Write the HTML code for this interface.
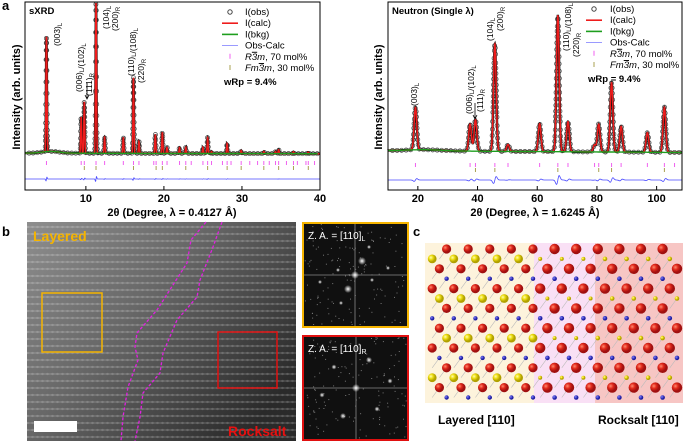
<!DOCTYPE html>
<html><head><meta charset="utf-8">
<style>
html,body{margin:0;padding:0;background:#fff;}
#wrap{position:relative;width:685px;height:441px;overflow:hidden;font-family:"Liberation Sans",sans-serif;}
svg text{font-family:"Liberation Sans",sans-serif;}
</style></head>
<body>
<div id="wrap">
<svg id="fig" width="685" height="441" viewBox="0 0 685 441" xmlns="http://www.w3.org/2000/svg">
<defs>
<linearGradient id="stemg" x1="0" y1="0" x2="1" y2="0.7">
<stop offset="0" stop-color="#8e8e8e"/><stop offset="0.45" stop-color="#686868"/><stop offset="1" stop-color="#2a2a2a"/>
</linearGradient>
<pattern id="stripes" width="5" height="7" patternUnits="userSpaceOnUse">
<rect x="0" y="2" width="5" height="2" fill="#fff" opacity="0.12"/>
<circle cx="2.5" cy="3" r="1.2" fill="#fff" opacity="0.12"/>
</pattern>
<radialGradient id="spot"><stop offset="0" stop-color="#fff"/><stop offset="1" stop-color="#fff" stop-opacity="0"/></radialGradient>
<radialGradient id="redball" cx="0.35" cy="0.35"><stop offset="0" stop-color="#ff8a70"/><stop offset="0.5" stop-color="#e0281a"/><stop offset="1" stop-color="#a01010"/></radialGradient>
<radialGradient id="yelball" cx="0.35" cy="0.35"><stop offset="0" stop-color="#ffffb0"/><stop offset="0.5" stop-color="#ecdc10"/><stop offset="1" stop-color="#b0a000"/></radialGradient>
<radialGradient id="bluball" cx="0.35" cy="0.35"><stop offset="0" stop-color="#8080ff"/><stop offset="1" stop-color="#1a1aa0"/></radialGradient>
</defs>

<text x="2" y="10" font-size="13" font-weight="bold">a</text>
<text x="2" y="236" font-size="13" font-weight="bold">b</text>
<text x="413" y="236" font-size="13" font-weight="bold">c</text>

<g id="chartL"></g>
<g id="chartR"></g>

<!-- Panel b -->
<g>
<rect x="27" y="222" width="269" height="219" fill="url(#stemg)"/>
<rect x="27" y="222" width="269" height="219" fill="url(#stripes)"/>
<path d="M206,222 L191,240 L187,263 L157,310 L137,333 L135,347 L138,360 L128,387 L123,417 L121,441" fill="none" stroke="#e020e0" stroke-width="1.3" stroke-dasharray="3,2"/>
<path d="M222,222 L213,247 L200,280 L197,297 L177,320 L163,353 L160,373 L143,393 L140,417 L135,441" fill="none" stroke="#e020e0" stroke-width="1.3" stroke-dasharray="3,2"/>
<rect x="42" y="293" width="60" height="59" fill="none" stroke="#f5b400" stroke-width="1.5"/>
<rect x="218" y="332" width="59" height="56" fill="none" stroke="#e01010" stroke-width="1.5"/>
<rect x="34" y="421" width="43" height="11" fill="#fff"/>
<text x="33" y="241" font-size="14" font-weight="bold" fill="#f5b400">Layered</text>
<text x="228" y="436" font-size="14" font-weight="bold" fill="#e81010">Rocksalt</text>
</g>
<g id="fftL">
<rect x="303" y="223" width="105" height="104" fill="#101010" stroke="#f5b400" stroke-width="2"/>
<line x1="304" y1="275" x2="407" y2="275" stroke="#888" stroke-width="0.8"/>
<line x1="355" y1="224" x2="355" y2="326" stroke="#888" stroke-width="0.8"/>
<circle cx="355" cy="275" r="4" fill="url(#spot)"/><circle cx="362" cy="261" r="4" fill="url(#spot)"/><circle cx="348" cy="289" r="4" fill="url(#spot)"/>
<circle cx="338" cy="270" r="2" fill="url(#spot)"/><circle cx="372" cy="280" r="2" fill="url(#spot)"/><circle cx="388" cy="268" r="2" fill="url(#spot)"/><circle cx="320" cy="282" r="2" fill="url(#spot)"/><circle cx="341" cy="303" r="2" fill="url(#spot)"/><circle cx="369" cy="247" r="2" fill="url(#spot)"/>
<text x="308" y="239" font-size="10" fill="#fff">Z. A. = [110]<tspan font-size="7" dy="2">L</tspan></text>
</g>
<g id="fftR">
<rect x="303" y="336" width="105" height="104" fill="#101010" stroke="#e01010" stroke-width="2"/>
<line x1="304" y1="388" x2="407" y2="388" stroke="#888" stroke-width="0.8"/>
<line x1="356" y1="337" x2="356" y2="439" stroke="#888" stroke-width="0.8"/>
<circle cx="356" cy="388" r="4" fill="url(#spot)"/><circle cx="369" cy="360" r="3" fill="url(#spot)"/><circle cx="343" cy="416" r="3" fill="url(#spot)"/>
<circle cx="334" cy="367" r="2.5" fill="url(#spot)"/><circle cx="390" cy="381" r="2.5" fill="url(#spot)"/><circle cx="322" cy="395" r="2.5" fill="url(#spot)"/><circle cx="377" cy="409" r="2.5" fill="url(#spot)"/>
<text x="308" y="352" font-size="10" fill="#fff">Z. A. = [110]<tspan font-size="7" dy="2">R</tspan></text>
</g>

<!-- Panel c -->
<g id="crystal">
<rect x="425" y="243" width="109" height="160" fill="#fdf3dc"/>
<rect x="534" y="243" width="61" height="160" fill="#f9e0f5"/>
<rect x="595" y="243" width="88" height="160" fill="#f7c6c4"/>
</g>
<text x="438" y="424" font-size="12" font-weight="bold">Layered [110]</text>
<text x="598" y="424" font-size="12" font-weight="bold">Rocksalt [110]</text>
</svg>
</div>
<script>
var NS="http://www.w3.org/2000/svg";
// ---- sXRD data ----
var xrdPeaks=[4.95,9.4,9.8,11.3,12.4,14.8,16.1,16.8,18.9,19.8,20.4,22.0,22.8,25.0,25.6,26.1,28.1,29.9,32.8,34.3,34.7,36.6,38.5];
var xrdHeights=[76,24,34,100,10.6,10.6,50,8,12.6,14,4,4,4,4,10.6,1.3,6.6,2,1.3,1.3,2.6,1.3,1];
var xrdTicksR=[4.95,9.4,9.8,11.3,12.4,14.8,16.1,16.8,18.7,19.0,19.8,20.4,22.0,22.8,23.5,25.0,25.6,26.1,27.5,28.1,28.6,29.9,31.0,32.0,32.8,33.5,34.3,34.7,35.7,36.6,37.1,38.2,38.5,39.3];
var xrdTicksF=[9.8,11.3,16.1,19.0,19.8,22.8,25.6,28.1,29.9,32.8,34.7,36.6,38.5];
var xrdXTicks=[10,20,30,40];
// ---- Neutron data ----
var neuPeaks=[19.2,37.5,39.3,45.8,50.2,60.8,66.9,70.3,79.2,80.6,84.9,88.1,96.9,102.6];
var neuHeights=[28,18,21,71,4.6,18.5,90,20,4.6,18.5,46,17,13,30];
var neuTicksR=[19.2,37.5,39.3,45.8,50.2,60.8,66.9,70.3,79.2,80.6,84.9,88.1,96.9,102.6,106];
var neuTicksF=[39.3,45.8,66.9,80.6,84.9,102.6];
var neuXTicks=[20,40,60,80,100];

function el(tag,attrs,parent){var e=document.createElementNS(NS,tag);for(var k in attrs)e.setAttribute(k,attrs[k]);if(parent)parent.appendChild(e);return e;}

function drawChart(g,cfg){
  var X=function(v){return cfg.x0+(v-cfg.xmin)/(cfg.xmax-cfg.xmin)*(cfg.x1-cfg.x0);};
  var Y=function(v){return cfg.base-v/100*(cfg.base-cfg.top);};
  function prof(t){var s=cfg.bkg(t);for(var i=0;i<cfg.peaks.length;i++){var d=(t-cfg.peaks[i])/cfg.sig;s+=cfg.heights[i]*Math.exp(-0.5*d*d);}return s;}
  var pts=[];for(var t=cfg.xmin;t<=cfg.xmax;t+=cfg.step){pts.push([X(t),Math.max(Y(prof(t)),cfg.top)]);}
  var obs=el('g',{},g);
  
  
  var acc=0;
  for(var i=1;i<pts.length;i++){var dx=pts[i][0]-pts[i-1][0],dy=pts[i][1]-pts[i-1][1];acc+=Math.sqrt(dx*dx+dy*dy);
    if(acc>=cfg.spacing){acc=0;el('circle',{cx:pts[i][0].toFixed(1),cy:pts[i][1].toFixed(1),r:2.1,fill:'none',stroke:'#444','stroke-width':0.7},obs);}}
  var d='M'+pts.map(function(p){return p[0].toFixed(1)+','+p[1].toFixed(1);}).join('L');
  var base=el('path',{d:d,fill:'none',stroke:'#111','stroke-width':2.4},g);
  
  
  var calc=el('path',{d:d,fill:'none',stroke:'#ee1c1c','stroke-width':1.5},g);
  
  
  var bp=[];for(var t2=cfg.xmin;t2<=cfg.xmax;t2+=0.5){bp.push(X(t2).toFixed(1)+','+Y(cfg.bkg(t2)).toFixed(1));}
  var bk=el('path',{d:'M'+bp.join('L'),fill:'none',stroke:'#1e9e1e','stroke-width':1.4},g);
  
  
  var dp=[];for(var t3=cfg.xmin;t3<=cfg.xmax;t3+=cfg.step){var s=0;for(var j=0;j<cfg.peaks.length;j++){var q=(t3-cfg.peaks[j])/cfg.sig;s+=cfg.heights[j]*q*Math.exp(-0.5*q*q);}dp.push(X(t3).toFixed(1)+','+(cfg.diffY-s*cfg.diffScale).toFixed(1));}
  var df=el('path',{d:'M'+dp.join('L'),fill:'none',stroke:'#4a4aff','stroke-width':0.8},g);
  
  
  cfg.ticksR.forEach(function(v){var l=el('line',{x1:X(v),x2:X(v),y1:cfg.tickY1,y2:cfg.tickY1+4,stroke:'#f060f0','stroke-width':1},g);
    
    });
  cfg.ticksF.forEach(function(v){var l=el('line',{x1:X(v),x2:X(v),y1:cfg.tickY2,y2:cfg.tickY2+4,stroke:'#a8a050','stroke-width':1},g);
    
    });
  var fr=el('rect',{x:cfg.x0,y:cfg.top-1,width:cfg.x1-cfg.x0,height:cfg.bottom-cfg.top+1,fill:'none',stroke:'#000','stroke-width':1},g);
  
  
  cfg.xticks.forEach(function(v){var x=X(v);el('line',{x1:x,x2:x,y1:cfg.bottom,y2:cfg.bottom-4,stroke:'#000'},g);
    var t=el('text',{x:x,y:cfg.bottom+12,'font-size':11,'font-weight':'bold','text-anchor':'middle'},g);t.textContent=v;
    
    });
}

drawChart(document.getElementById('chartL'),{x0:25,x1:320,xmin:2.2,xmax:40,top:3,base:154,bottom:190,
  peaks:xrdPeaks,heights:xrdHeights,sig:0.06,step:0.01,spacing:4,
  bkg:function(t){return 0.6+1.2*Math.exp(-Math.pow((t-5.5)/1.5,2))-0.01*t;},
  ticksR:xrdTicksR,ticksF:xrdTicksF,tickY1:161,tickY2:166,diffY:179,diffScale:0.04,xticks:xrdXTicks});
drawChart(document.getElementById('chartR'),{x0:388,x1:682,xmin:10,xmax:108.5,top:3,base:154,bottom:190,
  peaks:neuPeaks,heights:neuHeights,sig:0.45,step:0.04,spacing:4.5,
  bkg:function(t){return 2.2+0.8*Math.exp(-Math.pow((t-22)/8,2))-0.012*(t-10);},
  ticksR:neuTicksR,ticksF:neuTicksF,tickY1:163,tickY2:168,diffY:180,diffScale:0.08,xticks:neuXTicks});
</script>
<script>
var fig=document.getElementById('fig');
function txt(x,y,s,attrs,name){var t=document.createElementNS(NS,'text');t.setAttribute('x',x);t.setAttribute('y',y);for(var k in attrs)t.setAttribute(k,attrs[k]);t.innerHTML=s;fig.appendChild(t);
  
  return t;}
function rot(x,y,s,name){return txt(0,0,s,{'font-size':8.5,transform:'translate('+x+','+y+') rotate(-90)'},name);}
var sL='<tspan font-size="6" dy="2">L</tspan><tspan dy="-2"></tspan>',sR='<tspan font-size="6" dy="2">R</tspan><tspan dy="-2"></tspan>';
rot(60,46,'(003)'+sL,'peak-label-003');
rot(82,92,'(006)'+sL+'/(102)'+sL,'peak-label-006-102');
rot(92,96,'(111)'+sR,'peak-label-111');
rot(109,29,'(104)'+sL,'peak-label-104');
rot(118,31,'(200)'+sR,'peak-label-200');
rot(134,76,'(110)'+sL+'/(108)'+sL,'peak-label-110-108');
rot(144,83,'(220)'+sR,'peak-label-220');
rot(417,106,'(003)'+sL,'peak-label-003-n');
rot(472,114,'(006)'+sL+'/(102)'+sL,'peak-label-006-102-n');
rot(483,112,'(111)'+sR,'peak-label-111-n');
rot(493,41,'(104)'+sL,'peak-label-104-n');
rot(503,31,'(200)'+sR,'peak-label-200-n');
rot(569,51,'(110)'+sL+'/(108)'+sL,'peak-label-110-108-n');
rot(579,57,'(220)'+sR,'peak-label-220-n');
[[87,83,99],[475,103,119]].forEach(function(a){var l=document.createElementNS(NS,'path');l.setAttribute('d','M'+a[0]+','+a[1]+'V'+a[2]+'M'+(a[0]-2)+','+(a[2]-4)+'L'+a[0]+','+a[2]+'L'+(a[0]+2)+','+(a[2]-4));l.setAttribute('stroke','#000');l.setAttribute('fill','none');l.setAttribute('stroke-width','0.8');fig.appendChild(l);
  
  });
txt(29,14,'sXRD',{'font-size':9.5,'font-weight':'bold'},'chart-title-sxrd');
txt(392,14,'Neutron (Single λ)',{'font-size':9.5,'font-weight':'bold'},'chart-title-neutron');
txt(0,0,'Intensity (arb. units)',{'font-size':11,'font-weight':'bold','text-anchor':'middle',transform:'translate(20,97) rotate(-90)'},'y-axis-title-sxrd');
txt(0,0,'Intensity (arb. units)',{'font-size':11,'font-weight':'bold','text-anchor':'middle',transform:'translate(382,97) rotate(-90)'},'y-axis-title-neutron');
txt(172,216,'2θ (Degree, λ = 0.4127 Å)',{'font-size':11,'font-weight':'bold','text-anchor':'middle'},'x-axis-title-sxrd');
txt(535,216,'2θ (Degree, λ = 1.6245 Å)',{'font-size':11,'font-weight':'bold','text-anchor':'middle'},'x-axis-title-neutron');
function legend(lx,tx,y0,dy,name){
  var g=document.createElementNS(NS,'g');fig.appendChild(g);
  
  
  var labels=['I(obs)','I(calc)','I(bkg)','Obs-Calc','<tspan font-style="italic">R</tspan><tspan font-style="italic" text-decoration="overline">3</tspan><tspan font-style="italic">m</tspan>, 70 mol%','<tspan font-style="italic">Fm</tspan><tspan font-style="italic" text-decoration="overline">3</tspan><tspan font-style="italic">m</tspan>, 30 mol%'];
  for(var i=0;i<6;i++){var y=y0+i*dy;
    if(i==0){var c=document.createElementNS(NS,'circle');c.setAttribute('cx',lx+8);c.setAttribute('cy',y-3);c.setAttribute('r',2.2);c.setAttribute('fill','none');c.setAttribute('stroke','#444');g.appendChild(c);}
    else if(i<4){var l=document.createElementNS(NS,'line');l.setAttribute('x1',lx);l.setAttribute('x2',lx+16);l.setAttribute('y1',y-3);l.setAttribute('y2',y-3);l.setAttribute('stroke',['','#ee1c1c','#1e9e1e','#8080ff'][i]);l.setAttribute('stroke-width',i==3?0.8:1.6);g.appendChild(l);}
    else{var l2=document.createElementNS(NS,'line');l2.setAttribute('x1',lx+8);l2.setAttribute('x2',lx+8);l2.setAttribute('y1',y-6);l2.setAttribute('y2',y-1);l2.setAttribute('stroke',i==4?'#f060f0':'#a8a050');g.appendChild(l2);}
    var t=document.createElementNS(NS,'text');t.setAttribute('x',tx);t.setAttribute('y',y);t.setAttribute('font-size','9.5');t.innerHTML=labels[i];g.appendChild(t);}
  var w=document.createElementNS(NS,'text');w.setAttribute('x',lx+2);w.setAttribute('y',y0+6*dy+3);w.setAttribute('font-size','9.5');w.setAttribute('font-weight','bold');w.textContent='wRp = 9.4%';g.appendChild(w);
}
legend(222,245,15,11.2,'legend-sxrd');
legend(586,610,12,11.2,'legend-neutron');

// FFT noise speckle
[['fftL',304,224],['fftR',304,337]].forEach(function(f){var g=document.getElementById(f[0]);var seed=f[0]=='fftL'?7:13;
  for(var i=0;i<140;i++){seed=(seed*9301+49297)%233280;var a=seed/233280;seed=(seed*9301+49297)%233280;var b=seed/233280;
    var r=document.createElementNS(NS,'rect');r.setAttribute('x',(f[1]+a*102).toFixed(1));r.setAttribute('y',(f[2]+b*101).toFixed(1));r.setAttribute('width',1);r.setAttribute('height',1);r.setAttribute('fill','#777');
    g.insertBefore(r,g.children[1]);}});

var cg=document.getElementById('crystal');
for(var k=0;k<16;k++){
  var y=249+k*9.9, type=k%2==0?'O':(k%4==1?'Y':'B');
  for(var n=-2;n<14;n++){
    var x=425+((k*7.2)%21.6)+n*21.6;
    if(x<428||x>681)continue;
    var fill,r;
    if(type=='O'){fill='url(#redball)';r=x<534?4.6:5.2;}
    else if(x<534){fill=type=='Y'?'url(#yelball)':'url(#bluball)';r=type=='Y'?4.4:2.2;}
    else if(x<595){fill=type=='Y'?'url(#yelball)':'url(#bluball)';r=type=='Y'?2:2.3;}
    else {fill=k%4==1?'url(#yelball)':'url(#bluball)';r=2.3;}
    if(x>438 && y<396){var ln=document.createElementNS(NS,'line');ln.setAttribute('x1',x);ln.setAttribute('y1',y);ln.setAttribute('x2',x-7.2);ln.setAttribute('y2',y+9.9);ln.setAttribute('stroke','#bbb');ln.setAttribute('stroke-width','0.6');cg.appendChild(ln);}
    var c=document.createElementNS(NS,'circle');c.setAttribute('cx',x.toFixed(1));c.setAttribute('cy',y.toFixed(1));c.setAttribute('r',r);c.setAttribute('fill',fill);cg.appendChild(c);
    
    
  }
}
</script>
</body></html>
